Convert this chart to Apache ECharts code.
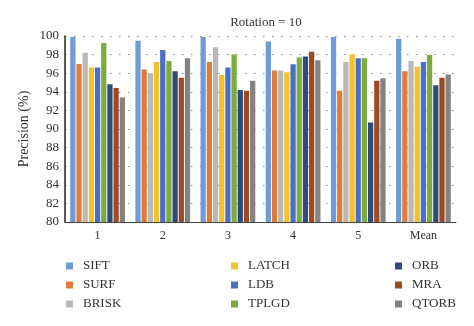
<!DOCTYPE html>
<html><head><meta charset="utf-8">
<script src="https://cdn.jsdelivr.net/npm/echarts@6/dist/echarts.min.js"></script>
<style>html,body{margin:0;padding:0;background:#fff}#c{width:474px;height:326px}</style>
</head><body><div id="c"></div>
<script>
const categories = ['1', '2', '3', '4', '5', 'Mean'];
const seriesNames = ['SIFT', 'SURF', 'BRISK', 'LATCH', 'LDB', 'TPLGD', 'ORB', 'MRA', 'QTORB'];
const SIFT  = [99.9, 99.5, 99.9, 99.4, 99.9, 99.7];
const SURF  = [97.0, 96.4, 97.2, 96.3, 94.1, 96.2];
const BRISK = [98.2, 96.0, 98.8, 96.3, 97.2, 97.3];
const LATCH = [96.6, 97.2, 95.8, 96.1, 98.0, 96.7];
const LDB   = [96.6, 98.5, 96.6, 96.95, 97.6, 97.2];
const TPLGD = [99.25, 97.3, 98.0, 97.7, 97.6, 97.95];
const ORB   = [94.8, 96.2, 94.2, 97.8, 90.7, 94.7];
const MRA   = [94.4, 95.5, 94.1, 98.3, 95.2, 95.5];
const QTORB = [93.4, 97.6, 95.2, 97.4, 95.45, 95.85];
const yTicks = [80, 82, 84, 86, 88, 90, 92, 94, 96, 98, 100];
const values = [SIFT, SURF, BRISK, LATCH, LDB, TPLGD, ORB, MRA, QTORB];
const colors = ['#6f9bd8', '#e07b39', '#b8b8b8', '#f2c12e', '#4a6fc4', '#7cab3e', '#2f4b7c', '#9c4a22', '#838383'];
const serif = 'Liberation Serif';

const chart = echarts.init(document.getElementById('c'));
function legendCol(names, left) {
  return {
    data: names, orient: 'vertical', left: left, top: 254,
    itemWidth: 7, itemHeight: 7, itemGap: 5, icon: 'rect',
    textStyle: { fontFamily: serif, fontSize: 13, color: '#333', lineHeight: 14, padding: [0, 0, 0, 5] }
  };
}
chart.setOption({
  animation: false,
  color: colors,
  title: { text: 'Rotation = 10', left: 261, top: 11, textAlign: 'center',
    textStyle: { fontFamily: serif, fontSize: 13, fontWeight: 'normal', color: '#333' } },
  legend: [
    legendCol(seriesNames.slice(0, 3), 61),
    legendCol(seriesNames.slice(3, 6), 226),
    legendCol(seriesNames.slice(6, 9), 390)
  ],
  grid: { left: 65, right: 18, top: 36, bottom: 104 },
  xAxis: {
    type: 'category', data: categories,
    axisLine: { lineStyle: { color: '#444', width: 1 } },
    axisTick: { show: false },
    axisLabel: { fontFamily: serif, fontSize: 12, color: '#333', margin: 8 }
  },
  yAxis: {
    type: 'value', min: 80, max: 100, interval: 2,
    name: 'Precision (%)', nameLocation: 'middle', nameGap: 34, nameRotate: 90,
    nameMoveOverlap: false,
    nameTextStyle: { fontFamily: serif, fontSize: 14, color: '#333' },
    axisLine: { show: true, lineStyle: { color: '#222', width: 1.5 } },
    axisTick: { show: false },
    axisLabel: { fontFamily: serif, fontSize: 13, color: '#333', margin: 6,
      formatter: v => yTicks.includes(v) ? String(v) : '' },
    splitLine: { lineStyle: { color: '#888', type: [1.5, 7.5], width: 1.2 } }
  },
  series: seriesNames.map((n, i) => ({
    name: n, type: 'bar', data: values[i],
    barGap: '18%', barCategoryGap: '16%',
    itemStyle: { color: colors[i] }
  }))
});
</script></body></html>
